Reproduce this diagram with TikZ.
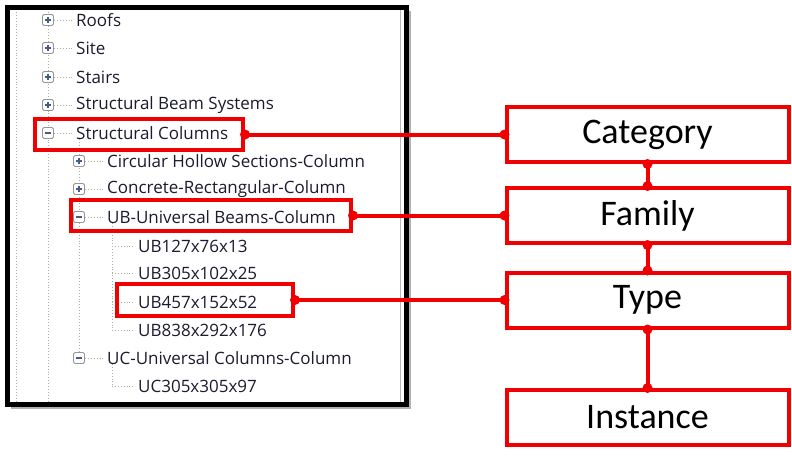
\documentclass[tikz,border=0pt]{standalone}
\usepackage{fontspec}
\setmainfont{Carlito}
\newfontfamily\treefont{Open Sans}
\usepackage{tikz}
\usetikzlibrary{positioning}

\definecolor{hilite}{RGB}{240,0,0}
\definecolor{treetext}{RGB}{28,28,48}
\definecolor{treeline}{RGB}{170,175,160}
\definecolor{boxline}{RGB}{150,150,150}
\definecolor{signcol}{RGB}{70,90,140}

\tikzset{
  item/.style = {anchor=west, inner sep=0, font=\treefont\fontsize{17}{18}\selectfont, text=treetext},
  expander/.style = {draw=boxline, fill=white, rounded corners=1.5, minimum size=11, inner sep=0, line width=0.9},
  sign/.style = {signcol, line width=1.1},
  branch/.style = {treeline, dotted, line width=0.9},
  selbox/.style = {draw=hilite, line width=4, inner sep=0},
  levelbox/.style = {draw=hilite, line width=4, minimum width=282, minimum height=55, font=\fontsize{36}{38}\selectfont},
  link/.style = {hilite, line width=4},
  dot/.style = {hilite}
}

\begin{document}
\begin{tikzpicture}[x=1pt, y=-1pt]

  \useasboundingbox (0,0) rectangle (792,464);

  % Drawing of the project browser
  \fill[gray!60] (11,11) rectangle (411,409);
  \fill[white] (7,7) rectangle (406,404);
  \draw[gray!55, line width=0.8] (400,9) -- (400,402);

  % tree guide lines
  \draw[branch] (16,9) -- (16,402);
  \draw[branch] (48,9) -- (48,402);
  \draw[branch] (79,139) -- (79,352);
  \draw[branch] (112,223) -- (112,330);
  \draw[branch] (112,364) -- (112,386);

  % first level
  \foreach \y/\name/\open in {20/Roofs/0, 48/Site/0, 77/Stairs/0,
      105/Structural Beam Systems/0, 133/Structural Columns/1} {
    \draw[branch] (54,\y) -- (72,\y);
    \node[expander] (ex\y) at (48,\y) {};
    \draw[sign] ([xshift=-3]ex\y.center) -- ([xshift=3]ex\y.center);
    \ifnum\open=0
      \draw[sign] ([yshift=-3]ex\y.center) -- ([yshift=3]ex\y.center);
    \fi
    \node[item] (it\y) at (76,\y) {\name};
  }

  % second level
  \foreach \y/\name/\open in {161/Circular Hollow Sections-Column/0,
      189/Concrete-Rectangular-Column/0, 217/UB-Universal Beams-Column/1,
      358/UC-Universal Columns-Column/1} {
    \draw[branch] (85,\y) -- (103,\y);
    \node[expander] (ex\y) at (79,\y) {};
    \draw[sign] ([xshift=-3]ex\y.center) -- ([xshift=3]ex\y.center);
    \ifnum\open=0
      \draw[sign] ([yshift=-3]ex\y.center) -- ([yshift=3]ex\y.center);
    \fi
    \node[item] (it\y) at (107,\y) {\name};
  }

  % third level
  \foreach \y/\name in {246/UB127x76x13, 273/UB305x102x25, 302/UB457x152x52,
      330/UB838x292x176, 386/UC305x305x97} {
    \draw[branch] (112,\y) -- (135,\y);
    \node[item] (it\y) at (138,\y) {\name};
  }

  \draw[black, line width=5] (7,7) rectangle (406,404);

  % highlighted entries
  \node[selbox, minimum width=208, minimum height=31] (selcat) at (139,134.5) {};
  \node[selbox, minimum width=280, minimum height=31] (selfam) at (211,215.5) {};
  \node[selbox, minimum width=176, minimum height=32] (seltype) at (205,300) {};

  % Drawing of the hierarchy
  \node[levelbox] (category) at (647.5,134.5) {Category};
  \node[levelbox] (family) at (647.5,215.5) {Family};
  \node[levelbox] (type) at (647.5,300) {Type};
  \node[levelbox] (instance) at (647.5,417.5) {Instance};

  \draw[link] (selcat.east) -- (category.west);
  \draw[link] (selfam.east) -- (family.west);
  \draw[link] (seltype.east) -- (type.west);
  \draw[link] (category.south) -- (family.north);
  \draw[link] (family.south) -- (type.north);
  \draw[link] (type.south) -- (instance.north);

  % end points
  \foreach \p in {selcat.east, selfam.east, seltype.east,
      category.west, family.west, type.west,
      category.south, family.north, family.south, type.north,
      type.south, instance.north}
    \fill[dot] (\p) circle (5);

\end{tikzpicture}
\end{document}
